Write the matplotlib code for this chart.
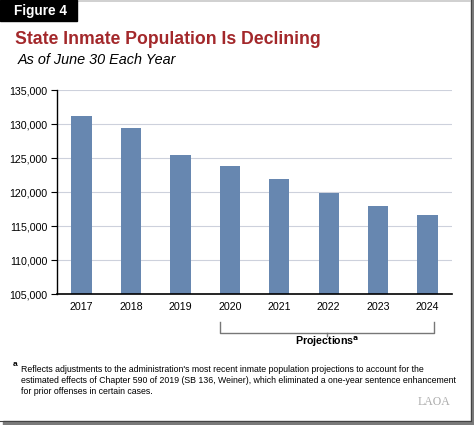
import matplotlib.pyplot as plt
from matplotlib.patches import Rectangle
from matplotlib.transforms import blended_transform_factory
from matplotlib.ticker import FuncFormatter

plt.rcParams['font.family'] = ['Liberation Sans', 'DejaVu Sans']

years = ['2017', '2018', '2019', '2020', '2021', '2022', '2023', '2024']
inmates = [131260, 129410, 125440, 123820, 121960, 119850, 117990, 116560]
first_projection = 3
yticks = [105000, 110000, 115000, 120000, 125000, 130000, 135000]

BAR_COLOR = '#6787B0'
TITLE_RED = '#A3282B'

fig = plt.figure(figsize=(4.74, 4.25), dpi=100)
ax = fig.add_axes([0.120, 0.308, 0.834, 0.480])

x = list(range(len(years)))
ax.bar(x, inmates, width=0.41, color=BAR_COLOR, zorder=2)

ax.set_xlim(-0.5, len(years) - 0.5)
ax.set_ylim(105000, 135000)
ax.set_yticks(yticks)
ax.yaxis.set_major_formatter(FuncFormatter(lambda v, p: f'{int(v):,}'))
ax.set_xticks(x)
ax.set_xticklabels(years)
ax.tick_params(axis='x', length=0, pad=6, labelsize=7.7)
ax.tick_params(axis='y', length=4, width=0.8, pad=3, labelsize=7.7)
ax.grid(axis='y', color='#CDD1DC', linewidth=0.8, zorder=0)
for s in ['top', 'right']:
    ax.spines[s].set_visible(False)
ax.spines['left'].set_linewidth(1.0)
ax.spines['bottom'].set_linewidth(1.2)

# projections bracket
tr = blended_transform_factory(ax.transData, ax.transAxes)
bx0 = first_projection - 0.19
bx1 = len(years) - 1 + 0.14
ax.plot([bx0, bx0, bx1, bx1], [-0.136, -0.19, -0.19, -0.136], transform=tr,
        color='#777777', lw=1.0, clip_on=False)
mid = (bx0 + bx1) / 2
ax.plot([mid, mid], [-0.19, -0.205], transform=tr, color='#777777', lw=1.0, clip_on=False)
ax.text(mid, -0.234, r'Projections$^{\mathbf{a}}$', transform=tr, ha='center', va='center',
        fontsize=7.7, fontweight='bold')

# header
fig.patches.append(Rectangle((0, 1 - 21 / 425), 77 / 474, 21 / 425, transform=fig.transFigure,
                             color='black', zorder=5))
fig.text(14 / 474, 1 - 11 / 425, 'Figure 4', color='white', fontsize=9.8, fontweight='bold',
         va='center', ha='left', zorder=6)
fig.text(15 / 474, 1 - 39 / 425, 'State Inmate Population Is Declining', color=TITLE_RED,
         fontsize=12.7, fontweight='bold', va='center', ha='left')
fig.text(18 / 474, 1 - 60 / 425, 'As of June 30 Each Year', fontsize=10.4, style='italic',
         va='center', ha='left')

# footnote
fig.text(13 / 474, 1 - 365 / 425, 'a', fontsize=6, fontweight='bold', va='center')
fig.text(21 / 474, 1 - 380.5 / 425,
         "Reflects adjustments to the administration's most recent inmate population projections to account for the\n"
         "estimated effects of Chapter 590 of 2019 (SB 136, Weiner), which eliminated a one-year sentence enhancement\n"
         "for prior offenses in certain cases.",
         fontsize=6.3, va='center', ha='left', linespacing=1.35)
fig.text(450 / 474, 1 - 402 / 425, 'LAOA', fontsize=8.5, family='Liberation Serif', color='#ABABAB',
         va='center', ha='right')

# frame with shadow
fig.patches.append(Rectangle((471 / 474, 0), 3 / 474, 1, transform=fig.transFigure, color='#7A7A7A'))
fig.patches.append(Rectangle((3 / 474, 0), 1, 4 / 425, transform=fig.transFigure, color='#7A7A7A'))
fig.lines.append(plt.Line2D([0, 470.5 / 474], [1 - 1 / 425, 1 - 1 / 425], transform=fig.transFigure,
                            color='#C8C8C8', lw=1.2))
fig.lines.append(plt.Line2D([470.5 / 474, 470.5 / 474], [1 - 420.5 / 425, 1], transform=fig.transFigure,
                            color='#444444', lw=0.8))
fig.lines.append(plt.Line2D([0, 470.5 / 474], [1 - 420.5 / 425, 1 - 420.5 / 425], transform=fig.transFigure,
                            color='#444444', lw=0.8))

fig.savefig('out.png', dpi=100)
